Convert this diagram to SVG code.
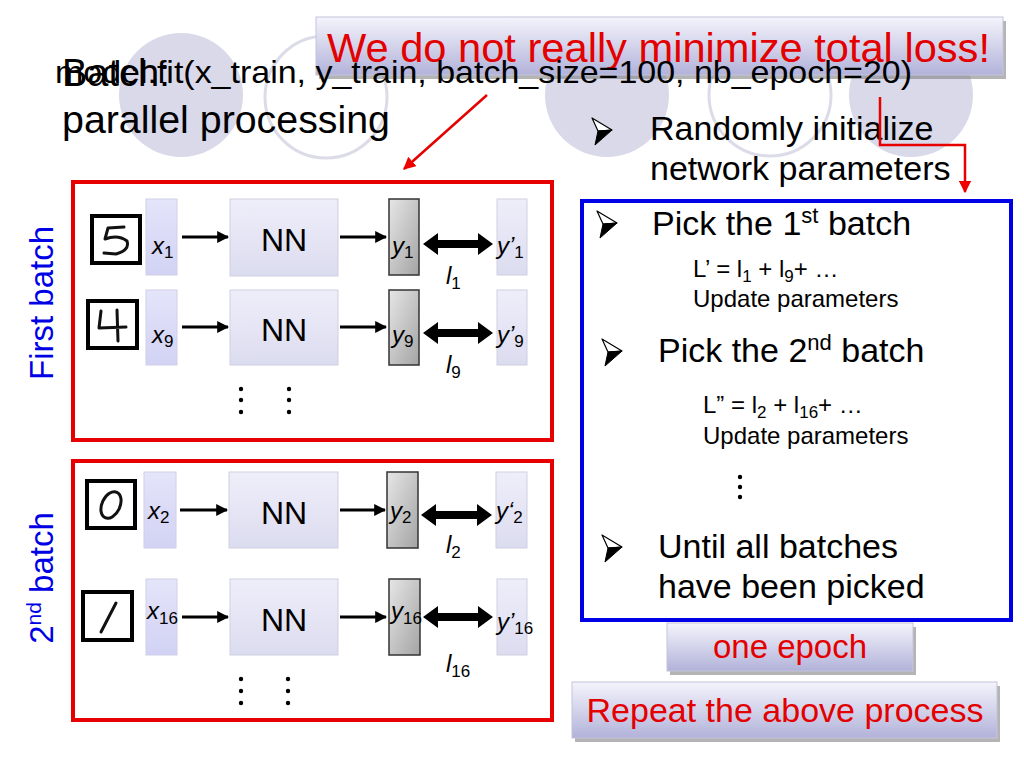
<svg xmlns="http://www.w3.org/2000/svg" width="1024" height="768" viewBox="0 0 1024 768">
<defs>
<linearGradient id="lav" x1="0" y1="0" x2="0" y2="1"><stop offset="0" stop-color="#eeeefa"/><stop offset="1" stop-color="#dcdcf0"/></linearGradient>
<linearGradient id="lavx" x1="0" y1="0" x2="0" y2="1"><stop offset="0" stop-color="#e4e4fa"/><stop offset="1" stop-color="#d2d2f4"/></linearGradient>
<linearGradient id="gray" x1="0" y1="0" x2="1" y2="1"><stop offset="0" stop-color="#e6e6e6"/><stop offset="1" stop-color="#a4a4a4"/></linearGradient>
<linearGradient id="ban" x1="0" y1="0" x2="0" y2="1"><stop offset="0" stop-color="#f4f4fc"/><stop offset="1" stop-color="#b2b2da"/></linearGradient>
<marker id="ah" viewBox="0 0 10 10" refX="9" refY="5" markerWidth="4" markerHeight="4" orient="auto"><path d="M0,0 L10,5 L0,10 z" fill="#000"/></marker>
<marker id="rah" viewBox="0 0 10 10" refX="9" refY="5" markerWidth="5" markerHeight="5" orient="auto"><path d="M0,0 L10,5 L0,10 z" fill="#e00"/></marker>
<g id="bullet">
<polygon points="0,0 20,12 6,13" fill="#fff" stroke="#000" stroke-width="1.2" stroke-linejoin="round"/>
<polygon points="6,13 20,12 3,27" fill="#000" stroke="#000" stroke-width="1" stroke-linejoin="round"/>
</g>
</defs>
<style>
text{font-family:"Liberation Sans",Arial,sans-serif}
.bg{fill:#d9d9ea}
.bgo{fill:none;stroke:#dcdce8;stroke-width:3}
.big{font-size:34px;fill:#000}
.red{fill:#e30000}
.blue{fill:#0000e6;font-size:33px}
.lav{fill:url(#lav);stroke:#cfcfe2;stroke-width:1}
.lavx{fill:url(#lavx);stroke:#d0d0e8;stroke-width:1}
.gy{fill:url(#gray);stroke:#333;stroke-width:1.5}
.dig{fill:#fff;stroke:#000;stroke-width:4}
.pen{fill:none;stroke:#111;stroke-width:3;stroke-linecap:round;stroke-linejoin:round}
.nn{font-size:32px;text-anchor:middle}
.var{font-size:24px;font-style:italic}
.sub{font-size:17px;font-style:normal}
.thin{stroke:#000;stroke-width:3;fill:none;marker-end:url(#ah)}
.btn{fill:url(#ban);stroke:#c4c4dc;stroke-width:1}
.sh{fill:#777;opacity:0.55}
.small{font-size:24px}
.dot{fill:#000}
</style>

<g id="background">
<circle class="bg" cx="181" cy="95" r="62"/>
<circle class="bgo" cx="326" cy="97" r="61"/>
<circle class="bg" cx="607" cy="95" r="62"/>
<circle class="bgo" cx="770" cy="95" r="61"/>
<circle class="bg" cx="911" cy="95" r="62"/>
</g>

<g id="banner">
<rect class="sh" x="319" y="21" width="687" height="58"/>
<rect class="btn" x="316" y="17" width="687" height="58"/>
<text x="327" y="62" font-size="40" textLength="663" lengthAdjust="spacingAndGlyphs" class="red">We do not really minimize total loss!</text>
</g>

<g id="title">
<text x="55" y="83" font-size="32" textLength="857" lengthAdjust="spacingAndGlyphs">model.fit(x_train, y_train, batch_size=100, nb_epoch=20)</text>
<text x="62" y="86" font-size="38">Batch:</text>
<text x="62" y="133" font-size="38" textLength="328" lengthAdjust="spacingAndGlyphs">parallel processing</text>
</g>

<g id="init">
<use href="#bullet" x="592" y="118"/>
<text class="big" x="650" y="140">Randomly initialize</text>
<text class="big" x="650" y="180">network parameters</text>
</g>

<g id="batch1-box">
<rect x="73" y="182" width="479" height="258" fill="none" stroke="#e60000" stroke-width="4"/>
<text class="blue" transform="translate(53,303) rotate(-90)" text-anchor="middle">First batch</text>
</g>
<g id="batch2-box">
<rect x="73" y="461" width="479" height="259" fill="none" stroke="#e60000" stroke-width="4"/>
<text class="blue" transform="translate(53,578) rotate(-90)" text-anchor="middle">2<tspan font-size="21" dy="-12">nd</tspan><tspan dy="12"> batch</tspan></text>
</g>

<g id="row1">
<rect class="dig" x="92" y="216" width="48" height="47"/>
<path class="pen" d="M124,227 L108,228 L105,239 Q118,234 127,241 Q130,250 116,254 L104,253"/>
<rect class="lavx" x="146" y="199" width="31" height="76"/>
<text class="var" x="152" y="254">x<tspan class="sub" dy="4">1</tspan></text>
<rect class="lav" x="230" y="199" width="108" height="77"/>
<text class="nn" x="284" y="251">NN</text>
<rect class="gy" x="389" y="199" width="30" height="76"/>
<text class="var" x="392" y="254">y<tspan class="sub" dy="4">1</tspan></text>
<rect class="lav" x="497" y="199" width="30" height="76"/>
<text class="var" x="497" y="254">y’<tspan class="sub" dy="4">1</tspan></text>
<text class="var" x="446" y="284">l<tspan class="sub" dy="5">1</tspan></text>
</g>

<g id="row2">
<rect class="dig" x="88" y="301" width="49" height="47"/>
<path class="pen" d="M101,311 L99,328 L126,327 M117,310 L118,341"/>
<rect class="lavx" x="146" y="290" width="31" height="75"/>
<text class="var" x="152" y="343">x<tspan class="sub" dy="4">9</tspan></text>
<rect class="lav" x="230" y="290" width="108" height="75"/>
<text class="nn" x="284" y="341">NN</text>
<rect class="gy" x="389" y="290" width="30" height="75"/>
<text class="var" x="392" y="343">y<tspan class="sub" dy="4">9</tspan></text>
<rect class="lav" x="497" y="290" width="30" height="75"/>
<text class="var" x="497" y="343">y’<tspan class="sub" dy="4">9</tspan></text>
<text class="var" x="446" y="373">l<tspan class="sub" dy="5">9</tspan></text>
<circle class="dot" cx="241" cy="389" r="2.2"/><circle class="dot" cx="241" cy="400" r="2.2"/><circle class="dot" cx="241" cy="412" r="2.2"/>
<circle class="dot" cx="289" cy="389" r="2.2"/><circle class="dot" cx="289" cy="400" r="2.2"/><circle class="dot" cx="289" cy="412" r="2.2"/>
</g>

<g id="row3">
<rect class="dig" x="87" y="481" width="48" height="47"/>
<ellipse class="pen" cx="111" cy="505" rx="9" ry="14" transform="rotate(25 111 505)"/>
<rect class="lavx" x="144" y="472" width="32" height="76"/>
<text class="var" x="148" y="519">x<tspan class="sub" dy="4">2</tspan></text>
<rect class="lav" x="229" y="472" width="109" height="76"/>
<text class="nn" x="284" y="524">NN</text>
<rect class="gy" x="387" y="472" width="31" height="76"/>
<text class="var" x="390" y="519">y<tspan class="sub" dy="4">2</tspan></text>
<rect class="lav" x="496" y="472" width="31" height="76"/>
<text class="var" x="496" y="519">y‘<tspan class="sub" dy="4" font-style="italic">2</tspan></text>
<text class="var" x="446" y="553">l<tspan class="sub" dy="5">2</tspan></text>
</g>

<g id="row4">
<rect class="dig" x="83" y="592" width="49" height="48"/>
<path class="pen" stroke-width="4" d="M116,603 L101,632"/>
<rect class="lavx" x="146" y="579" width="31" height="76"/>
<text class="var" x="147" y="619">x<tspan class="sub" dy="5">16</tspan></text>
<rect class="lav" x="230" y="579" width="108" height="76"/>
<text class="nn" x="284" y="631">NN</text>
<rect class="gy" x="389" y="579" width="31" height="76"/>
<text class="var" x="391" y="619">y<tspan class="sub" dy="5">16</tspan></text>
<rect class="lav" x="497" y="579" width="30" height="76"/>
<text class="var" x="497" y="630">y’<tspan class="sub" dy="4" font-style="italic">16</tspan></text>
<text class="var" x="446" y="672">l<tspan class="sub" dy="5">16</tspan></text>
<circle class="dot" cx="241" cy="679" r="2.2"/><circle class="dot" cx="241" cy="691" r="2.2"/><circle class="dot" cx="241" cy="703" r="2.2"/>
<circle class="dot" cx="288" cy="679" r="2.2"/><circle class="dot" cx="288" cy="691" r="2.2"/><circle class="dot" cx="288" cy="703" r="2.2"/>
</g>

<g id="connectors">
<line class="thin" x1="182" y1="237" x2="228" y2="237"/>
<line class="thin" x1="340" y1="237" x2="386" y2="237"/>
<line class="thin" x1="182" y1="327" x2="228" y2="327"/>
<line class="thin" x1="340" y1="327" x2="386" y2="327"/>
<line class="thin" x1="180" y1="510" x2="227" y2="510"/>
<line class="thin" x1="340" y1="510" x2="385" y2="510"/>
<line class="thin" x1="182" y1="617" x2="228" y2="617"/>
<line class="thin" x1="340" y1="617" x2="386" y2="617"/>
<polygon fill="#000" points="423,244 438,233 438,240 478,240 478,233 493,244 478,255 478,248 438,248 438,255"/>
<polygon fill="#000" points="423,333 438,322 438,329 478,329 478,322 493,333 478,344 478,337 438,337 438,344"/>
<polygon fill="#000" points="421,515 436,504 436,511 477,511 477,504 492,515 477,526 477,519 436,519 436,526"/>
<polygon fill="#000" points="423,617 438,606 438,613 478,613 478,606 493,617 478,628 478,621 438,621 438,628"/>
<line x1="487" y1="95" x2="404" y2="169" stroke="#e60000" stroke-width="2.5" marker-end="url(#rah)"/>
<polyline points="880,97 880,145 965,145 965,192" fill="none" stroke="#e60000" stroke-width="2.5" marker-end="url(#rah)"/>
</g>

<g id="procedure">
<rect x="582" y="201" width="429" height="419" fill="none" stroke="#0000e6" stroke-width="4"/>
<use href="#bullet" x="597" y="211"/>
<text class="big" x="652" y="235">Pick the 1<tspan font-size="22" dy="-12">st</tspan><tspan dy="12"> batch</tspan></text>
<text class="small" x="693" y="277">L’ = l<tspan font-size="17" dy="5">1</tspan><tspan dy="-5"> + l</tspan><tspan font-size="17" dy="5">9</tspan><tspan dy="-5">+ …</tspan></text>
<text class="small" x="693" y="307">Update parameters</text>
<use href="#bullet" x="602" y="339"/>
<text class="big" x="658" y="362">Pick the 2<tspan font-size="22" dy="-12">nd</tspan><tspan dy="12"> batch</tspan></text>
<text class="small" x="703" y="413">L” = l<tspan font-size="17" dy="5">2</tspan><tspan dy="-5"> + l</tspan><tspan font-size="17" dy="5">16</tspan><tspan dy="-5">+ …</tspan></text>
<text class="small" x="703" y="444">Update parameters</text>
<circle class="dot" cx="740" cy="477" r="2.2"/><circle class="dot" cx="740" cy="487" r="2.2"/><circle class="dot" cx="740" cy="497" r="2.2"/>
<use href="#bullet" x="602" y="535"/>
<text class="big" x="658" y="558">Until all batches</text>
<text class="big" x="658" y="598">have been picked</text>
</g>

<g id="one-epoch">
<rect class="sh" x="670" y="627" width="246" height="48"/>
<rect class="btn" x="667" y="623" width="246" height="48"/>
<text x="790" y="658" font-size="33" text-anchor="middle" class="red">one epoch</text>
</g>
<g id="repeat">
<rect class="sh" x="575" y="686" width="425" height="56"/>
<rect class="btn" x="572" y="682" width="425" height="56"/>
<text x="785" y="722" font-size="34" text-anchor="middle" class="red">Repeat the above process</text>
</g>
</svg>
